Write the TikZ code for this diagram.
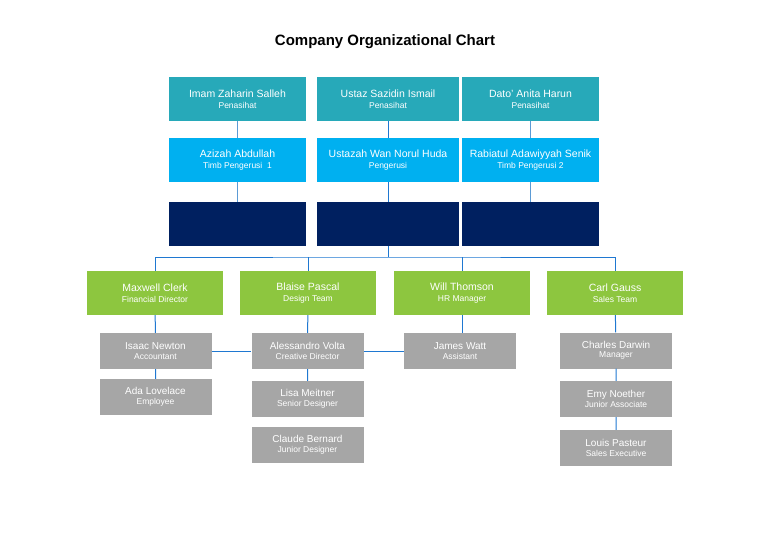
\documentclass[tikz,border=0pt]{standalone}
\usepackage{fontspec}
\setmainfont{Liberation Sans}
\usetikzlibrary{positioning}
\definecolor{teal1}{HTML}{27A9B9}
\definecolor{sky1}{HTML}{00B0F0}
\definecolor{navy1}{HTML}{002060}
\definecolor{green1}{HTML}{8DC63F}
\definecolor{gray1}{HTML}{A6A6A6}
\definecolor{link1}{HTML}{5B9BD5}
\definecolor{link2}{HTML}{1F78D1}
\tikzset{
  box/.style={minimum width=137pt, minimum height=44pt, inner sep=0pt, text=white, align=center, font=\fontsize{10.5}{12}\selectfont},
  sub/.style={box, minimum width=112pt, minimum height=36pt, fill=gray1, font=\fontsize{10}{10.5}\selectfont},
  link/.style={link2, line width=1pt},
}
\newcommand{\role}[1]{\\[-1pt]{\fontsize{8.5}{9}\selectfont #1}}
\begin{document}
\begin{tikzpicture}[x=1pt, y=-1pt]
\useasboundingbox (0,0) rectangle (768,543);

\node at (385,42) {\fontsize{15}{17}\selectfont\bfseries Company Organizational Chart};

% advisers
\node[box, fill=teal1] (imam) at (237.5,99) {Imam Zaharin Salleh\role{Penasihat}};
\node[box, fill=teal1, minimum width=142pt] (ustaz) at (388,99) {Ustaz Sazidin Ismail\role{Penasihat}};
\node[box, fill=teal1] (anita) at (530.5,99) {Dato' Anita Harun\role{Penasihat}};

% committee
\node[box, fill=sky1] (azizah) at (237.5,160) {Azizah Abdullah\role{Timb Pengerusi\ \ 1}};
\node[box, fill=sky1, minimum width=142pt] (huda) at (388,160) {Ustazah Wan Norul Huda\role{Pengerusi}};
\node[box, fill=sky1] (rabiatul) at (530.5,160) {Rabiatul Adawiyyah Senik\role{Timb Pengerusi 2}};

\node[box, fill=navy1] (dark1) at (237.5,224) {};
\node[box, fill=navy1, minimum width=142pt] (dark2) at (388,224) {};
\node[box, fill=navy1] (dark3) at (530.5,224) {};

% teams
\node[box, fill=green1, minimum width=136pt] (maxwell) at (155,293) {Maxwell Clerk\role{Financial Director}};
\node[box, fill=green1, minimum width=136pt] (blaise) at (308,293) {Blaise Pascal\role{Design Team}};
\node[box, fill=green1, minimum width=136pt] (will) at (462,293) {Will Thomson\role{HR Manager}};
\node[box, fill=green1, minimum width=136pt] (carl) at (615,293) {Carl Gauss\role{Sales Team}};

\node[sub] (newton) at (155.5,351) {Isaac Newton\role{Accountant}};
\node[sub] (ada) at (155.5,397) {Ada Lovelace\role{Employee}};
\node[sub] (volta) at (307.5,351) {Alessandro Volta\role{Creative Director}};
\node[sub] (lisa) at (307.5,399) {Lisa Meitner\role{Senior Designer}};
\node[sub] (claude) at (307.5,445) {Claude Bernard\role{Junior Designer}};
\node[sub] (watt) at (460,351) {James Watt\role{Assistant}};
\node[sub] (darwin) at (616,350.5) {Charles Darwin\role{Manager}};
\node[sub] (emy) at (616,399) {Emy Noether\role{Junior Associate}};
\node[sub] (louis) at (616,448) {Louis Pasteur\role{Sales Executive}};

\draw[link1, line width=1pt] (imam) -- (azizah) (azizah) -- (dark1);
\draw[link1, line width=1pt] (anita) -- (rabiatul) (rabiatul) -- (dark3);
\draw[link] (ustaz) -- (huda) (huda) -- (dark2);

\coordinate (bus) at (388,257);
\draw[link] (dark2) -- (bus);
\draw[link] (maxwell.north) |- (bus) -| (carl.north);
\draw[link] (blaise.north) -- (blaise.north |- bus);
\draw[link] (will.north) -- (will.north |- bus);

\draw[link] (maxwell) -- (newton) (newton) -- (ada);
\draw[link] (blaise) -- (volta) (volta) -- (lisa);
\draw[link] (will) -- (watt.north -| will);
\draw[link] (carl) -- (darwin) (darwin) -- (emy) (emy) -- (louis);
\draw[link] (newton) -- (volta) (volta) -- (watt);
\end{tikzpicture}
\end{document}
